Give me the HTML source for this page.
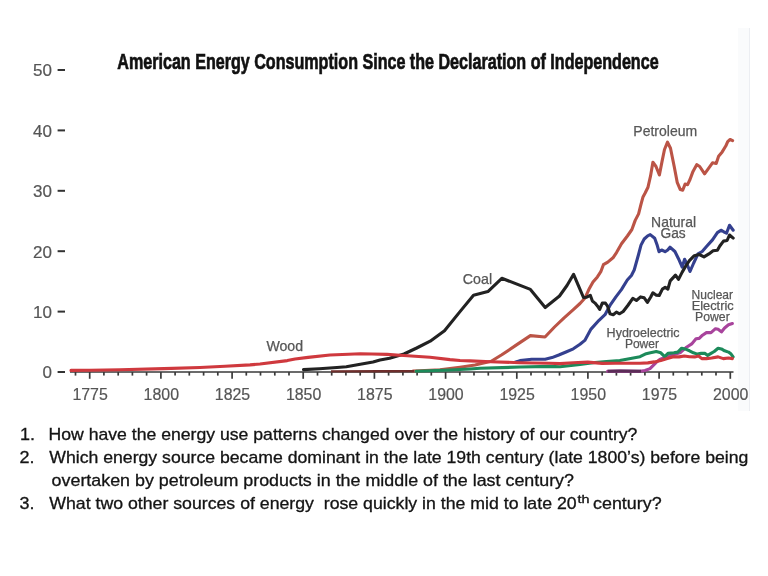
<!DOCTYPE html>
<html><head><meta charset="utf-8"><title>American Energy Consumption</title>
<style>
html,body{margin:0;padding:0;background:#fff;}
body{width:768px;height:576px;overflow:hidden;position:relative;}
svg{position:absolute;left:0;top:0;display:block;}
.ax text{font-family:"Liberation Sans",sans-serif;font-size:17px;fill:#555;stroke:#555;stroke-width:0.2px;}
.lb{font-family:"Liberation Sans",sans-serif;fill:#575757;stroke:#575757;stroke-width:0.25px;}
.q{font-family:"Liberation Sans",sans-serif;font-size:16.2px;fill:#141414;stroke:#141414;stroke-width:0.3px;}
</style></head>
<body>
<svg width="768" height="576" viewBox="0 0 768 576">
<rect x="0" y="0" width="768" height="576" fill="#fff"/>
<rect x="738" y="28" width="11" height="383" fill="#fafbfc"/>
<line x1="749.5" y1="28" x2="749.5" y2="411" stroke="#eceef2" stroke-width="1"/>
<text x="117.3" y="69.1" font-family="Liberation Sans, sans-serif" font-weight="bold" font-size="22.7" fill="#111" stroke="#111" stroke-width="0.7" textLength="541.3" lengthAdjust="spacingAndGlyphs">American Energy Consumption Since the Declaration of Independence</text>
<g class="ax"><text x="52" y="378.3" text-anchor="end">0</text><text x="52" y="317.9" text-anchor="end">10</text><text x="52" y="257.5" text-anchor="end">20</text><text x="52" y="197.1" text-anchor="end">30</text><text x="52" y="136.7" text-anchor="end">40</text><text x="52" y="76.3" text-anchor="end">50</text><text x="72.4" y="399.6" textLength="35.4" lengthAdjust="spacingAndGlyphs">1775</text><text x="143.6" y="399.6" textLength="35.4" lengthAdjust="spacingAndGlyphs">1800</text><text x="214.8" y="399.6" textLength="35.4" lengthAdjust="spacingAndGlyphs">1825</text><text x="285.9" y="399.6" textLength="35.4" lengthAdjust="spacingAndGlyphs">1850</text><text x="357.1" y="399.6" textLength="35.4" lengthAdjust="spacingAndGlyphs">1875</text><text x="428.3" y="399.6" textLength="35.4" lengthAdjust="spacingAndGlyphs">1900</text><text x="499.4" y="399.6" textLength="35.4" lengthAdjust="spacingAndGlyphs">1925</text><text x="570.6" y="399.6" textLength="35.4" lengthAdjust="spacingAndGlyphs">1950</text><text x="641.8" y="399.6" textLength="35.4" lengthAdjust="spacingAndGlyphs">1975</text><text x="713.0" y="399.6" textLength="35.4" lengthAdjust="spacingAndGlyphs">2000</text></g>
<g stroke="#333" stroke-width="2" fill="none"><line x1="57.6" y1="372.0" x2="65" y2="372.0"/><line x1="57.6" y1="311.6" x2="65" y2="311.6"/><line x1="57.6" y1="251.2" x2="65" y2="251.2"/><line x1="57.6" y1="190.8" x2="65" y2="190.8"/><line x1="57.6" y1="130.4" x2="65" y2="130.4"/><line x1="57.6" y1="70.0" x2="65" y2="70.0"/></g>
<g stroke="#3a3a3a" stroke-width="1.7" fill="none">
<line x1="70" y1="371.9" x2="733.5" y2="371.9" stroke-width="1.5"/><line x1="75.5" y1="372" x2="75.5" y2="375.6"/><line x1="89.7" y1="372" x2="89.7" y2="378.8"/><line x1="103.9" y1="372" x2="103.9" y2="375.6"/><line x1="118.2" y1="372" x2="118.2" y2="375.6"/><line x1="132.4" y1="372" x2="132.4" y2="375.6"/><line x1="146.6" y1="372" x2="146.6" y2="375.6"/><line x1="160.9" y1="372" x2="160.9" y2="378.8"/><line x1="175.1" y1="372" x2="175.1" y2="375.6"/><line x1="189.3" y1="372" x2="189.3" y2="375.6"/><line x1="203.6" y1="372" x2="203.6" y2="375.6"/><line x1="217.8" y1="372" x2="217.8" y2="375.6"/><line x1="232.1" y1="372" x2="232.1" y2="378.8"/><line x1="246.3" y1="372" x2="246.3" y2="375.6"/><line x1="260.5" y1="372" x2="260.5" y2="375.6"/><line x1="274.8" y1="372" x2="274.8" y2="375.6"/><line x1="289.0" y1="372" x2="289.0" y2="375.6"/><line x1="303.2" y1="372" x2="303.2" y2="378.8"/><line x1="317.5" y1="372" x2="317.5" y2="375.6"/><line x1="331.7" y1="372" x2="331.7" y2="375.6"/><line x1="345.9" y1="372" x2="345.9" y2="375.6"/><line x1="360.2" y1="372" x2="360.2" y2="375.6"/><line x1="374.4" y1="372" x2="374.4" y2="378.8"/><line x1="388.6" y1="372" x2="388.6" y2="375.6"/><line x1="402.9" y1="372" x2="402.9" y2="375.6"/><line x1="417.1" y1="372" x2="417.1" y2="375.6"/><line x1="431.3" y1="372" x2="431.3" y2="375.6"/><line x1="445.6" y1="372" x2="445.6" y2="378.8"/><line x1="459.8" y1="372" x2="459.8" y2="375.6"/><line x1="474.0" y1="372" x2="474.0" y2="375.6"/><line x1="488.3" y1="372" x2="488.3" y2="375.6"/><line x1="502.5" y1="372" x2="502.5" y2="375.6"/><line x1="516.8" y1="372" x2="516.8" y2="378.8"/><line x1="531.0" y1="372" x2="531.0" y2="375.6"/><line x1="545.2" y1="372" x2="545.2" y2="375.6"/><line x1="559.5" y1="372" x2="559.5" y2="375.6"/><line x1="573.7" y1="372" x2="573.7" y2="375.6"/><line x1="587.9" y1="372" x2="587.9" y2="378.8"/><line x1="602.2" y1="372" x2="602.2" y2="375.6"/><line x1="616.4" y1="372" x2="616.4" y2="375.6"/><line x1="630.6" y1="372" x2="630.6" y2="375.6"/><line x1="644.9" y1="372" x2="644.9" y2="375.6"/><line x1="659.1" y1="372" x2="659.1" y2="378.8"/><line x1="673.3" y1="372" x2="673.3" y2="375.6"/><line x1="687.6" y1="372" x2="687.6" y2="375.6"/><line x1="701.8" y1="372" x2="701.8" y2="375.6"/><line x1="716.0" y1="372" x2="716.0" y2="375.6"/><line x1="730.3" y1="372" x2="730.3" y2="378.8"/>
</g>
<g fill="none" stroke-width="3.1" stroke-linejoin="round" stroke-linecap="round">
<polyline stroke="#bb5446" points="413.0,371.0 420.0,370.8 440.0,369.8 460.0,367.2 475.0,365.0 491.2,361.3 501.8,354.8 516.9,344.6 530.4,335.6 545.0,337.0 554.5,327.0 564.1,317.9 573.6,309.3 580.0,303.5 585.2,297.7 589.5,288.2 593.0,282.1 597.4,276.9 600.8,271.7 603.4,264.7 607.8,262.1 613.0,257.8 616.5,252.6 621.5,243.8 627.4,236.0 631.9,229.5 635.2,220.4 638.6,213.9 640.9,204.7 643.0,196.9 645.0,193.3 648.0,187.2 650.5,176.2 652.9,162.2 656.0,166.5 659.4,175.0 662.0,161.6 664.5,149.5 667.5,142.2 670.5,148.2 674.2,166.5 677.2,182.3 680.3,189.6 682.7,190.2 685.1,184.1 687.6,184.7 690.0,179.5 693.0,171.4 696.7,164.7 699.7,166.5 704.6,173.8 708.2,168.9 712.5,162.8 716.2,163.5 718.6,156.2 722.2,151.9 725.9,145.8 727.7,141.6 730.1,139.5 732.6,140.7"/>
<polyline stroke="#6e2e2c" stroke-width="2.4" stroke-linecap="butt" points="331,371.4 380,371.3 414,371.1"/>
<polyline stroke="#a8449c" points="607.6,371.2 620.0,371.0 640.0,371.3 645.0,370.5 650.0,368.6 656.5,362.1 659.8,359.5 665.0,357.4 671.5,355.3 680.6,352.4 686.5,347.2 691.7,343.9 696.0,338.8 699.2,338.4 702.5,335.2 706.4,332.6 711.0,332.6 715.5,328.7 718.1,329.3 721.4,331.9 724.6,328.0 728.5,324.8 732.4,323.5"/>
<polyline stroke="#5c2d58" stroke-width="3" stroke-linecap="butt" points="607.6,371.2 620,371.1 641,371.2"/>
<polyline stroke="#1c8a5a" points="416.0,371.2 450.0,370.0 470.0,369.0 480.0,368.3 520.0,367.0 550.0,366.4 560.0,366.8 580.0,364.5 595.0,362.5 606.5,361.6 619.8,360.5 632.0,358.2 640.0,356.7 645.2,354.1 650.4,352.8 656.3,351.5 660.8,352.8 664.7,356.7 668.0,353.4 673.9,352.8 677.8,352.1 681.7,348.2 684.9,348.9 689.5,350.8 693.4,352.8 697.3,354.1 701.2,353.4 705.1,353.4 707.7,355.4 711.0,353.4 714.2,351.5 718.1,348.2 721.4,348.9 724.6,350.8 728.5,352.1 731.1,354.1 733.1,356.9"/>
<polyline stroke="#34408f" points="515.0,362.3 520.0,360.6 531.7,359.3 545.2,359.2 552.0,357.6 558.8,355.0 566.0,352.0 573.3,348.8 580.0,344.3 584.8,340.4 591.0,329.1 599.0,320.3 605.0,314.7 610.5,304.6 615.9,296.9 621.4,289.6 627.3,280.0 631.4,275.5 634.2,270.0 638.4,255.0 641.0,245.1 644.2,239.0 647.7,235.8 650.2,234.6 654.7,238.2 657.3,245.6 659.0,251.7 661.6,250.0 665.1,251.7 667.7,250.0 670.0,247.2 674.9,251.5 678.5,258.7 682.2,267.2 684.6,259.3 687.0,264.2 690.0,271.5 693.7,263.0 698.0,253.9 702.2,251.5 706.5,246.6 712.5,239.9 717.4,232.6 721.0,230.2 724.1,232.0 726.5,233.2 729.5,225.3 733.2,230.2"/>
<polyline stroke="#222" points="303.5,369.6 319.3,368.7 336.9,367.5 346.3,366.8 360.3,364.2 373.0,362.0 380.0,360.0 389.6,358.3 404.0,354.0 416.7,348.0 430.2,341.2 444.5,330.8 460.8,310.6 473.5,295.3 487.9,291.6 501.8,278.3 530.4,289.4 545.2,307.5 559.5,296.0 567.0,285.5 573.6,274.3 578.3,285.4 583.5,297.5 586.7,297.2 590.3,295.3 592.4,301.0 595.0,303.1 597.6,306.2 599.7,309.4 602.3,303.1 605.4,303.0 607.7,306.5 610.0,313.8 613.2,314.7 616.4,312.1 619.6,313.8 623.2,311.5 627.8,305.5 632.8,298.3 636.4,300.5 640.6,296.9 644.2,297.8 647.4,302.4 650.6,297.3 652.9,292.8 656.0,295.1 659.2,295.5 662.4,289.1 665.2,287.3 667.9,289.1 670.2,280.9 675.5,275.1 678.5,279.4 682.2,272.1 685.8,266.0 689.4,260.6 694.3,255.7 699.2,254.5 704.0,256.9 708.9,253.9 713.1,250.8 717.4,250.2 719.8,246.0 723.5,241.1 727.1,240.5 729.5,235.0 733.2,238.1"/>
<polyline stroke="#cf393e" points="71.0,370.4 90.0,370.2 120.0,369.8 164.0,368.6 200.0,367.5 225.0,366.3 250.0,364.9 260.0,364.0 287.3,360.6 295.1,359.0 308.1,357.4 330.0,355.0 348.6,354.2 360.3,353.8 372.0,354.0 387.0,354.4 400.0,355.3 430.0,357.2 450.0,359.6 460.0,360.5 470.0,360.9 490.8,361.7 520.0,362.7 550.0,363.2 560.0,363.6 573.3,362.7 587.7,362.1 602.1,363.4 615.3,363.2 630.8,363.2 640.0,363.3 647.8,362.9 654.3,361.9 660.8,360.6 667.3,358.6 672.6,356.9 679.1,356.9 684.3,356.0 689.5,356.7 694.7,356.9 698.6,356.0 701.8,358.6 706.4,358.6 711.6,358.0 718.1,356.9 723.3,358.6 728.5,358.0 732.4,358.6"/>
</g>
<g class="lb">
<text x="266.4" y="350.8" font-size="14" textLength="36.7" lengthAdjust="spacingAndGlyphs">Wood</text>
<text x="462.8" y="284" font-size="14.3" textLength="29.3" lengthAdjust="spacingAndGlyphs">Coal</text>
<text x="633.3" y="136.2" font-size="14.3" textLength="63.9" lengthAdjust="spacingAndGlyphs">Petroleum</text>
<text x="651.1" y="226.6" font-size="14.2" textLength="45" lengthAdjust="spacingAndGlyphs">Natural</text>
<text x="660.5" y="238.4" font-size="14" textLength="25.2" lengthAdjust="spacingAndGlyphs">Gas</text>
<text x="606.6" y="336.6" font-size="12.2" textLength="73" lengthAdjust="spacingAndGlyphs">Hydroelectric</text>
<text x="624.9" y="347.6" font-size="12.2" textLength="34.1" lengthAdjust="spacingAndGlyphs">Power</text>
<text x="691.6" y="299.3" font-size="12.2" textLength="41.4" lengthAdjust="spacingAndGlyphs">Nuclear</text>
<text x="691.7" y="310.1" font-size="12.2" textLength="42" lengthAdjust="spacingAndGlyphs">Electric</text>
<text x="695.1" y="320.6" font-size="12.2" textLength="34.65" lengthAdjust="spacingAndGlyphs">Power</text>
</g>
<g class="q">
<text x="19.9" y="439.7" textLength="15" lengthAdjust="spacingAndGlyphs">1.</text>
<text x="48.5" y="439.7" textLength="588.9" lengthAdjust="spacingAndGlyphs">How have the energy use patterns changed over the history of our country?</text>
<text x="19.4" y="462.7" textLength="15" lengthAdjust="spacingAndGlyphs">2.</text>
<text x="49.3" y="462.7" textLength="699.1" lengthAdjust="spacingAndGlyphs">Which energy source became dominant in the late 19th century (late 1800’s) before being</text>
<text x="51.6" y="485.6" textLength="522.4" lengthAdjust="spacingAndGlyphs">overtaken by petroleum products in the middle of the last century?</text>
<text x="19.4" y="508.6" textLength="15" lengthAdjust="spacingAndGlyphs">3.</text>
<text x="49.3" y="508.6" textLength="527.3" lengthAdjust="spacingAndGlyphs" xml:space="preserve">What two other sources of energy  rose quickly in the mid to late 20</text>
<text x="577.4" y="502.6" font-size="10" textLength="12" lengthAdjust="spacingAndGlyphs">th</text>
<text x="593" y="508.6" textLength="68.6" lengthAdjust="spacingAndGlyphs">century?</text>
</g>
</svg>
</body></html>
